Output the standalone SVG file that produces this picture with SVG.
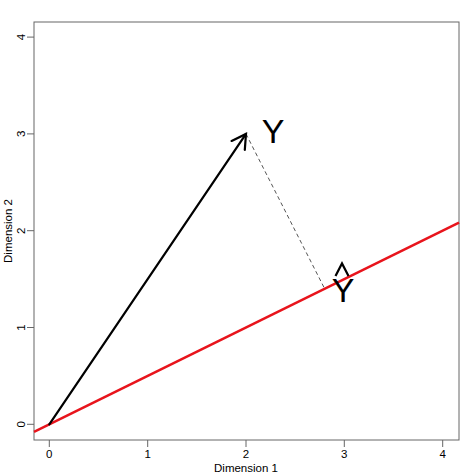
<svg xmlns="http://www.w3.org/2000/svg" width="474" height="474" viewBox="0 0 474 474">
<style>
text{font-family:"Liberation Sans",Arial,sans-serif;fill:#000}
.tick{font-size:11.5px}
.lab{font-size:11.5px}
.big{font-size:34px}
.ax{stroke:#666;stroke-width:1;fill:none}
</style>
<rect width="474" height="474" fill="#fff"/>
<g id="axes">
<rect class="ax" x="34" y="22" width="425" height="418"/>
<path class="ax" d="M49.3 440v7M147.7 440v7M246 440v7M344.3 440v7M442.7 440v7"/>
<path class="ax" d="M34 424.3h-7M34 327.5h-7M34 230.7h-7M34 133.9h-7M34 37.1h-7"/>
<g class="tick" text-anchor="middle">
<text x="49.3" y="458">0</text>
<text x="147.7" y="458">1</text>
<text x="246" y="458">2</text>
<text x="344.3" y="458">3</text>
<text x="442.7" y="458">4</text>
<text transform="translate(25 424.3) rotate(-90)">0</text>
<text transform="translate(25 327.5) rotate(-90)">1</text>
<text transform="translate(25 230.7) rotate(-90)">2</text>
<text transform="translate(25 133.9) rotate(-90)">3</text>
<text transform="translate(25 37.1) rotate(-90)">4</text>
</g>
<text class="lab" x="246" y="472" text-anchor="middle">Dimension 1</text>
<text class="lab" transform="translate(12 231) rotate(-90)" text-anchor="middle">Dimension 2</text>
</g>
<g id="connectors">
<line id="dash" x1="246" y1="133.9" x2="324.7" y2="288.8" stroke="#555" stroke-width="1" stroke-dasharray="4,3"/>
<line id="redline" x1="34" y1="431.8" x2="459" y2="222.7" stroke="#e8141c" stroke-width="2.5"/>
<g id="arrow" stroke="#000" stroke-width="2.2" fill="none" stroke-linecap="round">
<line x1="49.3" y1="424.3" x2="246" y2="133.9"/>
<polyline points="231.6,140.9 246,133.9 244.8,149.9"/>
</g>
</g>
<g id="labelY">
<text class="big" x="273" y="143" text-anchor="middle">Y</text>
</g>
<g id="labelYhat">
<text class="big" x="343" y="302" text-anchor="middle">Y</text>
<polyline points="335.5,276 342,263.5 348.5,276" fill="none" stroke="#000" stroke-width="2.2"/>
</g>
</svg>
